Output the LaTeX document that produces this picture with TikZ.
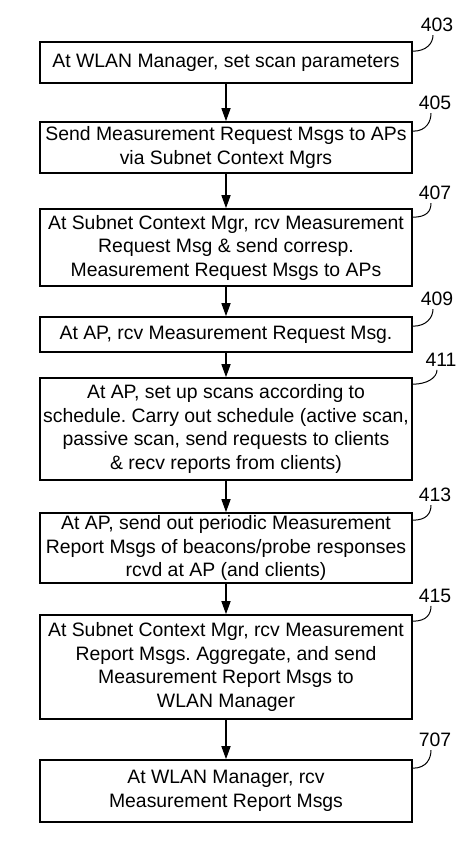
\documentclass[tikz,border=0pt]{standalone}
\usepackage{fontspec}
\setmainfont{Liberation Sans}
\usetikzlibrary{arrows.meta,calc}
\frenchspacing
\begin{document}
\begin{tikzpicture}[x=1pt,y=-1pt,
  stepbox/.style={draw,line width=1.6pt,minimum width=372pt,inner sep=0pt,align=center,font=\fontsize{19.4}{23.5}\selectfont},
  flow/.style={line width=1.4pt,-{Triangle[length=13pt,width=9pt]}},
  reflabel/.style={inner sep=0pt,font=\fontsize{19.4}{23}\selectfont},
  leader/.style={line width=1pt}]
\useasboundingbox[fill=white] (0,0) rectangle (474,847);
% boxes
\node[stepbox,minimum height=41pt] (b1) at (226,62.5) {At WLAN Manager, set scan parameters};
\node[stepbox,minimum height=51pt] (b2) at (226,147.5) {Send Measurement Request Msgs to APs\\via Subnet Context Mgrs};
\node[stepbox,minimum height=77pt] (b3) at (226,247.5) {At Subnet Context Mgr, rcv Measurement\\Request Msg \& send corresp.\\Measurement Request Msgs to APs};
\node[stepbox,minimum height=35pt] (b4) at (226,334.5) {At AP, rcv Measurement Request Msg.};
\node[stepbox,minimum height=102pt] (b5) at (226,429) {At AP, set up scans according to\\schedule. Carry out schedule (active scan,\\passive scan, send requests to clients\\\& recv reports from clients)};
\node[stepbox,minimum height=70pt] (b6) at (226,548) {At AP, send out periodic Measurement\\Report Msgs of beacons/probe responses\\rcvd at AP (and clients)};
\node[stepbox,minimum height=104pt] (b7) at (226,667) {At Subnet Context Mgr, rcv Measurement\\Report Msgs. Aggregate, and send\\Measurement Report Msgs to\\WLAN Manager};
\node[stepbox,minimum height=62pt] (b8) at (226,791) {At WLAN Manager, rcv\\Measurement Report Msgs};
% arrows
\draw[flow] (b1) -- (b2);
\draw[flow] (b2) -- (b3);
\draw[flow] (b3) -- (b4);
\draw[flow] (b4) -- (b5);
\draw[flow] (b5) -- (b6);
\draw[flow] (b6) -- (b7);
\draw[flow] (b7) -- (b8);
% reference labels
\node[reflabel] (l1) at (437,25) {403};
\node[reflabel] (l2) at (435,103) {405};
\node[reflabel] (l3) at (435,193) {407};
\node[reflabel] (l4) at (437,299) {409};
\node[reflabel] (l5) at (441,360) {411};
\node[reflabel] (l6) at (435,495) {413};
\node[reflabel] (l7) at (435,596) {415};
\node[reflabel] (l8) at (435,740) {707};
% leaders
\foreach \b/\l/\d in {b1/l1/10,b2/l2/10,b3/l3/9,b4/l4/10,b5/l5/7,b6/l6/8,b7/l7/7,b8/l8/9}{
  \coordinate (s\b) at ($(\b.north east)+(0,\d)$);
  \coordinate (e\b) at ($(\l.south)+(-4,3)$);
  \draw[leader] (s\b) .. controls +(14,0) and +(0,8) .. (e\b);
}
\end{tikzpicture}
\end{document}
